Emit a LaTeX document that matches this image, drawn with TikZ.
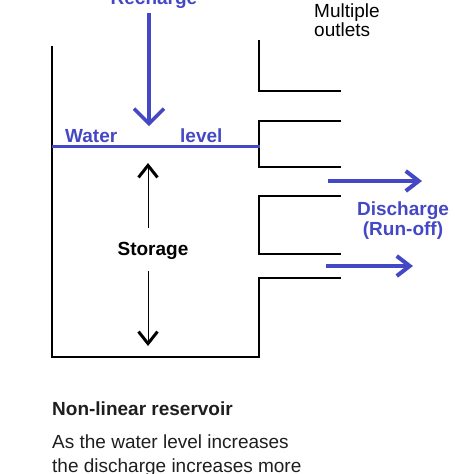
\documentclass[tikz,border=0pt]{standalone}
\usepackage{fontspec}
\setmainfont{Liberation Sans}
\usetikzlibrary{arrows.meta}
\definecolor{flowblue}{RGB}{68,72,196}
\definecolor{inkgray}{RGB}{30,30,30}
\tikzset{
  wall/.style={line width=1.2pt},
  flow/.style={flowblue, line width=3.5pt, -{Straight Barb[length=15pt,width=30pt]}},
  outflow/.style={flowblue, line width=4pt, -{Straight Barb[length=13pt,width=20pt]}},
  storearrow/.style={line width=1pt, -{Straight Barb[length=12pt,width=19pt,line width=3pt]}},
  txt/.style={font=\fontsize{19}{20}\selectfont, inner sep=0pt, anchor=base west},
  bluetxt/.style={txt, flowblue, font=\fontsize{19}{20}\selectfont\bfseries}
}
\begin{document}
\begin{tikzpicture}[x=1pt,y=-1pt]
	\useasboundingbox (0,0) rectangle (474,474);
	\clip (0,0) rectangle (474,474);
	% reservoir
	\coordinate (tl) at (52,46);
	\coordinate (bl) at (52,357);
	\coordinate (br) at (259,357);
	\coordinate (a1) at (259,40);
	\coordinate (a2) at (259,91);
	\coordinate (a3) at (341,91);
	\coordinate (b1) at (341,121);
	\coordinate (b2) at (259,121);
	\coordinate (b3) at (259,167);
	\coordinate (b4) at (341,167);
	\coordinate (c1) at (341,196);
	\coordinate (c2) at (259,196);
	\coordinate (c3) at (259,254);
	\coordinate (c4) at (341,254);
	\coordinate (d1) at (341,278);
	\coordinate (d2) at (259,278);
	\draw[wall] (tl) to (bl) to (br) to (d2) to (d1);
	\draw[wall] (a1) to (a2) to (a3);
	\draw[wall] (b1) to (b2) to (b3) to (b4);
	\draw[wall] (c1) to (c2) to (c3) to (c4);
	% water level
	\coordinate (wl) at (52,146);
	\coordinate (wr) at (260,146);
	\draw[flowblue, line width=3pt] (wl) to (wr);
	\node[bluetxt] (water) at (65,142) {Water};
	\node[bluetxt] (level) at (180,142) {level};
	% recharge
	\node[bluetxt, anchor=base] (recharge) at (154,4) {Recharge};
	\coordinate (rtop) at (149,13);
	\coordinate (rtip) at (149,126);
	\draw[flow] (rtop) to (rtip);
	% storage
	\node[txt, anchor=base, font=\fontsize{19}{20}\selectfont\bfseries] (storage) at (153,255) {Storage};
	\coordinate (up) at (148,163);
	\coordinate (upend) at (148,228);
	\coordinate (dn) at (148,346);
	\coordinate (dnend) at (148,271);
	\draw[storearrow] (upend) to (up);
	\draw[storearrow] (dnend) to (dn);
	% outlets
	\node[txt] (multiple) at (314,17) {Multiple};
	\node[txt] (outlets) at (314,36) {outlets};
	\coordinate (q1s) at (328,181);
	\coordinate (q1e) at (422,181);
	\coordinate (q2s) at (326,266);
	\coordinate (q2e) at (413,266);
	\draw[outflow] (q1s) to (q1e);
	\draw[outflow] (q2s) to (q2e);
	\node[bluetxt, anchor=base] (discharge) at (403,215) {Discharge};
	\node[bluetxt, anchor=base] (runoff) at (403,235) {(Run-off)};
	% caption
	\node[txt, inkgray, font=\fontsize{19}{20}\selectfont\bfseries] (title) at (52,415) {Non-linear reservoir};
	\node[txt, inkgray] (line1) at (52,448) {As the water level increases};
	\node[txt, inkgray] (line2) at (52,472) {the discharge increases more};
\end{tikzpicture}
\end{document}
